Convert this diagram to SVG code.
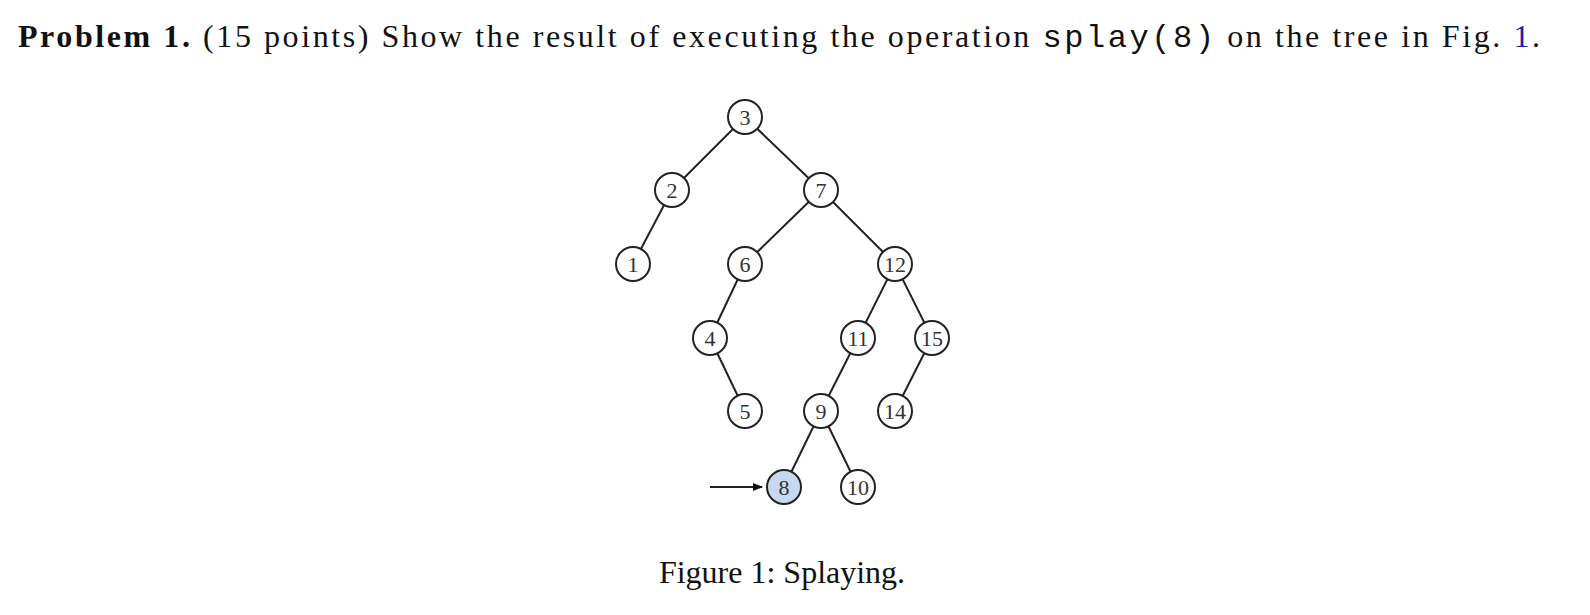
<svg xmlns="http://www.w3.org/2000/svg" width="1590" height="615" viewBox="0 0 1590 615">
<style>
.t{font-family:"Liberation Serif","DejaVu Serif",serif;fill:#111}
.n circle{fill:#fff;stroke:#222;stroke-width:2}
.n text{font-family:"Liberation Serif",serif;font-size:22px;text-anchor:middle;fill:#333}
.e line{stroke:#222;stroke-width:2}
</style>
<defs><marker id="ah" markerWidth="10" markerHeight="8" refX="9" refY="4" orient="auto" markerUnits="userSpaceOnUse"><path d="M0,0L10,4L0,8z" fill="#111"/></marker></defs>
<rect width="1590" height="615" fill="#fff"/>
<text class="t" x="18" y="47" font-size="32" textLength="1522" lengthAdjust="spacing"><tspan font-weight="bold">Problem 1.</tspan> (15 points) Show the result of executing the operation <tspan font-family="Liberation Mono,monospace">splay(8)</tspan> on the tree in Fig. <tspan fill="#2020b0">1</tspan>.</text>
<g id="connectors" class="e">
<line x1="745" y1="117" x2="672" y2="190"/><line x1="745" y1="117" x2="821" y2="190"/>
<line x1="672" y1="190" x2="633" y2="264"/><line x1="821" y1="190" x2="745" y2="264"/>
<line x1="821" y1="190" x2="895" y2="264"/><line x1="745" y1="264" x2="710" y2="338"/>
<line x1="895" y1="264" x2="858" y2="338"/><line x1="895" y1="264" x2="932" y2="338"/>
<line x1="710" y1="338" x2="745" y2="411"/><line x1="858" y1="338" x2="821" y2="411"/>
<line x1="932" y1="338" x2="895" y2="411"/><line x1="821" y1="411" x2="784" y2="487"/>
<line x1="821" y1="411" x2="858" y2="487"/>
<line x1="710" y1="487" x2="762" y2="487" marker-end="url(#ah)"/>
</g>
<g id="n3" class="n"><circle cx="745" cy="117" r="17"/><text x="745" y="125">3</text></g>
<g id="n2" class="n"><circle cx="672" cy="190" r="17"/><text x="672" y="198">2</text></g>
<g id="n7" class="n"><circle cx="821" cy="190" r="17"/><text x="821" y="198">7</text></g>
<g id="n1" class="n"><circle cx="633" cy="264" r="17"/><text x="633" y="272">1</text></g>
<g id="n6" class="n"><circle cx="745" cy="264" r="17"/><text x="745" y="272">6</text></g>
<g id="n12" class="n"><circle cx="895" cy="264" r="17"/><text x="895" y="272">12</text></g>
<g id="n4" class="n"><circle cx="710" cy="338" r="17"/><text x="710" y="346">4</text></g>
<g id="n11" class="n"><circle cx="858" cy="338" r="17"/><text x="858" y="346">11</text></g>
<g id="n15" class="n"><circle cx="932" cy="338" r="17"/><text x="932" y="346">15</text></g>
<g id="n5" class="n"><circle cx="745" cy="411" r="17"/><text x="745" y="419">5</text></g>
<g id="n9" class="n"><circle cx="821" cy="411" r="17"/><text x="821" y="419">9</text></g>
<g id="n14" class="n"><circle cx="895" cy="411" r="17"/><text x="895" y="419">14</text></g>
<g id="n8" class="n"><circle cx="784" cy="487" r="17" style="fill:#c6d9f1"/><text x="784" y="495">8</text></g>
<g id="n10" class="n"><circle cx="858" cy="487" r="17"/><text x="858" y="495">10</text></g>
<text class="t" x="782" y="583" font-size="32" text-anchor="middle">Figure 1: Splaying.</text>
</svg>
